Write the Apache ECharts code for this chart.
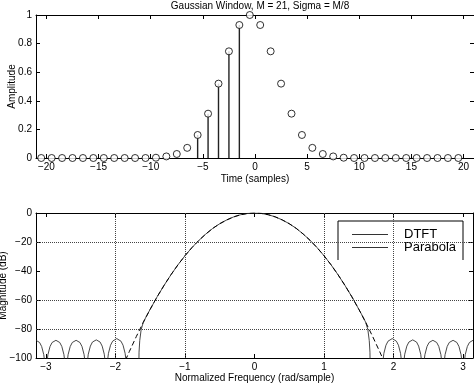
<!DOCTYPE html>
<html><head><meta charset="utf-8">
<script src="https://cdn.jsdelivr.net/npm/echarts@6/dist/echarts.min.js"></script>
<style>html,body{margin:0;padding:0;background:#fff}#c{width:474px;height:384px}</style>
</head><body><div id="c"></div>
<script>
// ---- Top plot: Gaussian window samples ----
const timeSamples = [-20.5,-19.5,-18.5,-17.5,-16.5,-15.5,-14.5,-13.5,-12.5,-11.5,-10.5,-9.5,-8.5,-7.5,-6.5,-5.5,-4.5,-3.5,-2.5,-1.5,-0.5,
  0.5,1.5,2.5,3.5,4.5,5.5,6.5,7.5,8.5,9.5,10.5,11.5,12.5,13.5,14.5,15.5,16.5,17.5,18.5,19.5];
const amplitude = [0,0,0,0,0,0,0,0,0,0,0,0.002,0.011,0.028,0.071,0.161,0.31,0.52,0.746,0.93,1.0,
  0.93,0.746,0.52,0.31,0.161,0.071,0.028,0.011,0.002,0,0,0,0,0,0,0,0,0,0,0];
const stemTime = [-5.5,-4.5,-3.5,-2.5,-1.5];
const stemAmp = [0.161,0.31,0.52,0.746,0.93];
const timeTicks = [-20,-15,-10,-5,0,5,10,15,20];

// ---- Bottom plot: DTFT magnitude vs parabola ----
const dtftFreq = [
  -3.1416,-3.09,-3.06,-3.03,-3.015,-3.0,
  -2.985,-2.97,-2.94,-2.91,-2.855,-2.80,-2.77,-2.74,-2.725,-2.71,
  -2.695,-2.68,-2.65,-2.62,-2.565,-2.51,-2.48,-2.45,-2.435,-2.42,
  -2.405,-2.39,-2.36,-2.33,-2.275,-2.22,-2.19,-2.16,-2.145,-2.13,
  -2.115,-2.10,-2.07,-2.04,-1.98,-1.92,-1.89,-1.86,-1.845,-1.83,
  -1.75,-1.67,
  -1.66,-1.65,-1.63,-1.6,-1.55,-1.5,-1.4,-1.3,-1.2,-1.1,-1.0,-0.9,-0.8,-0.7,-0.6,-0.5,-0.4,-0.3,-0.2,-0.1,
  0,
  0.1,0.2,0.3,0.4,0.5,0.6,0.7,0.8,0.9,1.0,1.1,1.2,1.3,1.4,1.5,1.55,1.6,1.63,1.65,1.66,
  1.67,1.75,
  1.83,1.845,1.86,1.89,1.92,1.98,2.04,2.07,2.10,2.115,
  2.13,2.145,2.16,2.19,2.22,2.275,2.33,2.36,2.39,2.405,
  2.42,2.435,2.45,2.48,2.51,2.565,2.62,2.65,2.68,2.695,
  2.71,2.725,2.74,2.77,2.80,2.855,2.91,2.94,2.97,2.985,
  3.0,3.015,3.03,3.06,3.09,3.1416];
const dtftMag = [
  -87.8,-89.3,-92.1,-97.7,-103.5,-130,
  -103.5,-97.7,-92.1,-89.3,-87.8,-89.3,-92.1,-97.7,-103.5,-130,
  -103.5,-97.7,-92.1,-89.3,-87.8,-89.3,-92.1,-97.7,-103.5,-130,
  -103.5,-97.4,-91.8,-89.0,-87.5,-89.0,-91.8,-97.4,-103.5,-130,
  -102.6,-96.8,-91.2,-88.4,-86.6,-88.4,-91.2,-96.8,-102.6,-130,
  -104,-130,
  -96,-88,-80.5,-75.5,-70.8,-66.4,-57.8,-49.9,-42.5,-35.7,-29.5,-23.9,-18.9,-14.5,-10.6,-7.4,-4.8,-2.7,-1.2,-0.3,
  0,
  -0.3,-1.2,-2.7,-4.8,-7.4,-10.6,-14.5,-18.9,-23.9,-29.5,-35.7,-42.5,-49.9,-57.8,-66.4,-70.8,-75.5,-80.5,-88,-96,
  -130,-104,
  -130,-102.6,-96.8,-91.2,-88.4,-86.6,-88.4,-91.2,-96.8,-102.6,
  -130,-103.5,-97.4,-91.8,-89.0,-87.5,-89.0,-91.8,-97.4,-103.5,
  -130,-103.5,-97.7,-92.1,-89.3,-87.8,-89.3,-92.1,-97.7,-103.5,
  -130,-103.5,-97.7,-92.1,-89.3,-87.8,-89.3,-92.1,-97.7,-103.5,
  -130,-103.5,-97.7,-92.1,-89.3,-87.8];
const paraFreq = [-1.9,-1.85,-1.8,-1.7,-1.6,-1.5,-1.4,-1.3,-1.2,-1.1,-1.0,-0.9,-0.8,-0.7,-0.6,-0.5,-0.4,-0.3,-0.2,-0.1,
  0,0.1,0.2,0.3,0.4,0.5,0.6,0.7,0.8,0.9,1.0,1.1,1.2,1.3,1.4,1.5,1.6,1.7,1.8,1.85,1.9];
const paraMag = [-106.5,-101,-95.6,-85.3,-75.5,-66.4,-57.8,-49.9,-42.5,-35.7,-29.5,-23.9,-18.9,-14.5,-10.6,-7.4,-4.8,-2.7,-1.2,-0.3,
  0,-0.3,-1.2,-2.7,-4.8,-7.4,-10.6,-14.5,-18.9,-23.9,-29.5,-35.7,-42.5,-49.9,-57.8,-66.4,-75.5,-85.3,-95.6,-101,-106.5];
const freqTicks = [-3,-2,-1,0,1,2,3];
const freqGridLines = [-2,-1,1,2];
const magGridLines = [-80,-60,-20];
const seriesNames = ['DTFT','Parabola'];

const FONT = 'Liberation Sans, Arial, sans-serif';
const minus = v => String(v).replace('-', '\u2212');
const lineStyle = {color:'#000', width:1};

function xAx(grid, min, max, ticks, pos, extra) {
  return Object.assign({
    type:'value', gridIndex:grid, min:min, max:max, position:pos,
    axisLine:{show:true, onZero:false, lineStyle:lineStyle},
    axisTick:{show:true, inside:true, length:4, customValues:ticks, lineStyle:lineStyle},
    axisLabel:{show:pos==='bottom', customValues:ticks, margin:4, fontSize:10, color:'#000', fontFamily:FONT, formatter:minus},
    splitLine:{show:false}
  }, extra||{});
}
function yAx(grid, min, max, interval, pos, extra) {
  return Object.assign({
    type:'value', gridIndex:grid, min:min, max:max, interval:interval, position:pos,
    axisLine:{show:true, onZero:false, lineStyle:lineStyle},
    axisTick:{show:true, inside:true, length:4, lineStyle:lineStyle},
    axisLabel:{show:pos==='left', margin:4, fontSize:10, color:'#000', fontFamily:FONT, formatter:minus},
    splitLine:{show:false}
  }, extra||{});
}
const nameStyle = {fontSize:10, color:'#000', fontFamily:FONT};

const chart = echarts.init(document.getElementById('c'), null, {renderer:'canvas'});
chart.setOption({
  animation:false,
  backgroundColor:'#fff',
  title:{text:'Gaussian Window, M = 21, Sigma = M/8', left:255, textAlign:'center', top:-4,
    textStyle:{fontSize:10, fontWeight:'normal', color:'#000', fontFamily:FONT}},
  grid:[
    {left:36, top:15, width:438, height:143, containLabel:false, outerBoundsMode:'none'},
    {left:36, top:213, width:437, height:145, containLabel:false, outerBoundsMode:'none'}
  ],
  legend:{
    data:seriesNames, orient:'vertical', left:347, top:223, itemWidth:36, itemHeight:1, icon:'rect', itemGap:0,
    selectedMode:false,
    textStyle:{fontSize:13, color:'#000', fontFamily:FONT, lineHeight:12, padding:[0,0,0,11]}
  },
  graphic:[{type:'polyline', shape:{points:[[338,260],[338,221],[463,221],[463,260]]}, style:{stroke:'#000', fill:null, lineWidth:1}}],
  xAxis:[
    xAx(0,-21,21,timeTicks,'bottom',{name:'Time (samples)', nameLocation:'middle', nameGap:16, nameMoveOverlap:false, nameTextStyle:nameStyle}),
    xAx(0,-21,21,timeTicks,'top'),
    xAx(1,-Math.PI,Math.PI,freqTicks,'bottom',{name:'Normalized Frequency (rad/sample)', nameLocation:'middle', nameGap:15, nameMoveOverlap:false, nameTextStyle:nameStyle}),
    xAx(1,-Math.PI,Math.PI,freqTicks,'top')
  ],
  yAxis:[
    yAx(0,0,1,0.2,'left',{name:'Amplitude', nameLocation:'middle', nameGap:19, nameRotate:90, nameMoveOverlap:false, nameTextStyle:nameStyle}),
    yAx(0,0,1,0.2,'right'),
    yAx(1,-100,0,20,'left',{name:'Magnitude (dB)', nameLocation:'middle', nameGap:28, nameRotate:90, nameMoveOverlap:false, nameTextStyle:nameStyle}),
    yAx(1,-100,0,20,'right')
  ],
  series:[
    {type:'custom', xAxisIndex:0, yAxisIndex:0, silent:true,
     data: stemTime.map((t,i)=>[t, stemAmp[i]]),
     renderItem:function(params, api){
       const p0 = api.coord([api.value(0), 0]);
       const p1 = api.coord([api.value(0), api.value(1)]);
       return {type:'line', shape:{x1:p0[0], y1:p0[1], x2:p1[0], y2:p1[1]}, style:{stroke:'#222', lineWidth:1.4}};
     }},
    {type:'scatter', xAxisIndex:0, yAxisIndex:0, silent:true, symbol:'circle', symbolSize:7,
     itemStyle:{color:'#fff', borderColor:'#000', borderWidth:1},
     data: timeSamples.map((t,i)=>[t, amplitude[i]])},
    {type:'line', name:seriesNames[0], xAxisIndex:2, yAxisIndex:2, showSymbol:false, symbol:'none', silent:true,
     color:'#333', lineStyle:{color:'#333', width:0.9},
     data: dtftFreq.map((f,i)=>[f, dtftMag[i]]),
     markLine:{silent:true, symbol:'none', label:{show:false}, animation:false,
       lineStyle:{type:'dotted', color:'#444', width:1},
       data: freqGridLines.map(v=>({xAxis:v})).concat(magGridLines.map(v=>({yAxis:v})))}},
    {type:'line', name:seriesNames[1], xAxisIndex:2, yAxisIndex:2, showSymbol:false, symbol:'none', silent:true,
     color:'#333', lineStyle:{color:'#000', width:1, type:[5,3]},
     data: paraFreq.map((f,i)=>[f, paraMag[i]])}
  ]
});
</script>
</body></html>
